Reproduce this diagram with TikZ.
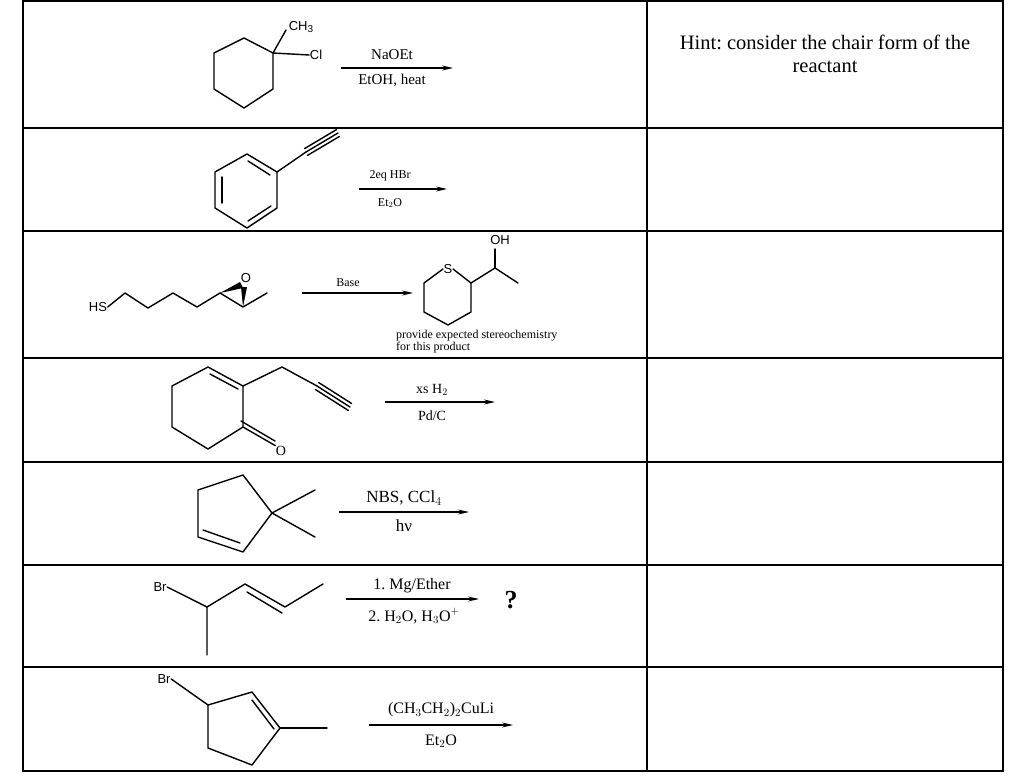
\documentclass[tikz,border=0pt]{standalone}
\usepackage{fontspec}
\setmainfont{Liberation Serif}
\newfontfamily\atomf{Liberation Sans}
\usetikzlibrary{arrows.meta}
\newcommand{\asub}[1]{\raisebox{-0.35ex}{\fontsize{10}{10}\selectfont #1}}
\begin{document}
\frenchspacing
\begin{tikzpicture}[x=1pt,y=-1pt,
  bond/.style={line width=1.4pt,line cap=round,line join=round},
  grid/.style={line width=1.8pt},
  rxn/.style={line width=1.2pt,-{Stealth[length=11pt,width=5pt]}},
  atom/.style={inner sep=0.5pt,font=\atomf\fontsize{13}{13}\selectfont},
  reag/.style={inner sep=0pt,font=\fontsize{15}{15}\selectfont},
  small/.style={inner sep=0pt,font=\fontsize{12}{12}\selectfont}]
\useasboundingbox (0,0) rectangle (1024,779);
\fill[white] (0,0) rectangle (1024,779);
% table
\draw[grid] (23,1) rectangle (1003,771);
\draw[grid] (647,1) -- (647,771);
\foreach \y in {128,231,358,462,565,667} \draw[grid] (23,\y) -- (1003,\y);
\node[font=\fontsize{20.5}{23}\selectfont,align=center] (hint) at (825,54) {Hint: consider the chair form of the\\reactant};
% row 1
\draw[bond] (244,38)--(273,53)--(273,89)--(244,108)--(214,89)--(214,53)--cycle;
\node[atom] (ch3) at (301,27) {CH\asub{3}};
\node[atom] (cl) at (316,55) {Cl};
\draw[bond] (273,53)--(286,30);
\draw[bond] (273,53)--(cl.west);
\coordinate (a1s) at (341,68); \coordinate (a1e) at (453,68);
\draw[rxn] (a1s)--(a1e);
\node[reag] (r1a) at (392,55) {NaOEt};
\node[reag] (r1b) at (392,80) {EtOH, heat};
% row 2
\draw[bond] (247,154)--(277,172)--(277,208)--(247,228)--(215,208)--(215,172)--cycle;
\draw[bond] (222,177)--(222,203);
\draw[bond] (248,221)--(271,206);
\draw[bond] (248,161)--(270,175);
\draw[bond] (277,172)--(306,152);
\draw[bond] (306,152)--(338,133);
\draw[bond] (304.5,148.6)--(336.5,129.6);
\draw[bond] (307.5,155.4)--(339.5,136.4);
\coordinate (a2s) at (359,189); \coordinate (a2e) at (447,189);
\draw[rxn] (a2s)--(a2e);
\node[small] (r2a) at (390,176) {2eq HBr};
\node[small] (r2b) at (390,203) {Et$_2$O};
% row 3
\node[atom] (hs) at (98,307) {HS};
\draw[bond] (hs.east)--(125,293)--(148,308)--(173,293)--(197,307)--(220,293)--(243,307)--(267,293);
\node[atom] (o3) at (246,278) {O};
\fill (220,293)--(240,282)--(243,288)--cycle;
\fill (243,307)--(241,287)--(247,287)--cycle;
\coordinate (a3s) at (302,293); \coordinate (a3e) at (413,293);
\draw[rxn] (a3s)--(a3e);
\node[small] (r3) at (348,283) {Base};
\node[atom] (s3) at (448,269) {S};
\draw[bond] (s3.west)--(424,283)--(424,312)--(448,325)--(471,312)--(471,283)--(s3.east);
\draw[bond] (471,283)--(495,268)--(518,283);
\node[atom] (oh3) at (500,240) {OH};
\draw[bond] (495,268)--(495,249);
\node[small,align=left,anchor=north west,font=\fontsize{12}{10}\selectfont] (prov) at (396,330) {provide expected stereochemistry\\for this product};
% row 4
\draw[bond] (208,367)--(243,386)--(243,427)--(208,449)--(172,427)--(172,386)--cycle;
\draw[bond] (210,374)--(238,389);
\node[atom,font=\fontsize{14}{14}\selectfont] (o4) at (281,451) {O};
\draw[bond] (243,427)--(o4.north west);
\draw[bond] (241,421)--(275,441);
\draw[bond] (243,386)--(282,367)--(317,386);
\draw[bond] (317,386)--(350,407);
\draw[bond] (318.6,382.5)--(351.6,403.5);
\draw[bond] (315.4,389.5)--(348.4,410.5);
\coordinate (a4s) at (385,402); \coordinate (a4e) at (495,402);
\draw[rxn] (a4s)--(a4e);
\node[small,font=\fontsize{14}{14}\selectfont] (r4a) at (432,390) {xs H$_2$};
\node[small,font=\fontsize{14}{14}\selectfont] (r4b) at (432,416) {Pd/C};
% row 5
\draw[bond] (243,475)--(198,490)--(198,537)--(243,552)--(272,513)--cycle;
\draw[bond] (203,530)--(240,543);
\draw[bond] (272,513)--(315,490);
\draw[bond] (272,513)--(315,537);
\coordinate (a5s) at (339,512); \coordinate (a5e) at (469,512);
\draw[rxn] (a5s)--(a5e);
\node[reag,font=\fontsize{17}{17}\selectfont] (r5a) at (404,498) {NBS, CCl$_4$};
\node[reag,font=\fontsize{17}{17}\selectfont] (r5b) at (404,526) {hν};
% row 6
\node[atom] (br6) at (160,587) {Br};
\draw[bond] (br6.east)--(207,607)--(207,655);
\draw[bond] (207,607)--(245,584)--(285,607)--(323,584);
\draw[bond] (247,592)--(282,613);
\coordinate (a6s) at (346,599); \coordinate (a6e) at (479,599);
\draw[rxn] (a6s)--(a6e);
\node[reag,font=\fontsize{16}{16}\selectfont] (r6a) at (412,586) {1. Mg/Ether};
\node[reag,font=\fontsize{16}{16}\selectfont] (r6b) at (414,616) {2. H$_2$O, H$_3$O$^{+}$};
\node[font=\bfseries\fontsize{26}{26}\selectfont] (q) at (511,600) {?};
% row 7
\node[atom] (br7) at (164,679) {Br};
\draw[bond] (br7.east)--(208,705);
\draw[bond] (208,705)--(252,692)--(280,728)--(252,765)--(208,748)--cycle;
\draw[bond] (252,700)--(274,729);
\draw[bond] (280,728)--(327,728);
\coordinate (a7s) at (369,725); \coordinate (a7e) at (513,725);
\draw[rxn] (a7s)--(a7e);
\node[reag,font=\fontsize{16}{16}\selectfont] (r7a) at (441,710) {(CH$_3$CH$_2$)$_2$CuLi};
\node[reag,font=\fontsize{16}{16}\selectfont] (r7b) at (441,741) {Et$_2$O};
\end{tikzpicture}
\end{document}
